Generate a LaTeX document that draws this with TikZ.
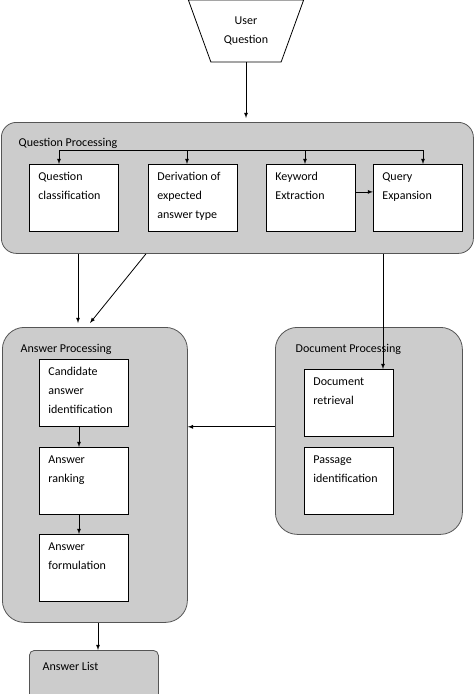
\documentclass[tikz,border=0pt]{standalone}
\usepackage{fontspec}
\setmainfont{Carlito}
\usetikzlibrary{shapes.geometric}

\definecolor{panelgray}{RGB}{204,204,204}
\definecolor{edgegray}{RGB}{85,85,85}

\newcommand{\boxtxt}[1]{\parbox[t][51pt][t]{71pt}{\raggedright #1}}

\begin{document}
\begin{tikzpicture}[x=1pt,y=-1pt,line width=0.8pt,
        every node/.style={font=\fontsize{12pt}{19pt}\selectfont},
        panel/.style={draw=edgegray,fill=panelgray,anchor=north west,inner sep=0pt},
        procbox/.style={draw=black,fill=white,anchor=north west,inner xsep=9pt,inner ysep=8pt},
        arr/.style={-latex}]
        \useasboundingbox (0,0) rectangle (474,694);
        % containers
        \node[panel,rounded corners=15pt,minimum width=472pt,minimum height=131pt] (qp) at (1,122) {};
        \node[panel,rounded corners=22pt,minimum width=185pt,minimum height=295pt] (ap) at (2,327) {};
        \node[panel,rounded corners=22pt,minimum width=187pt,minimum height=207pt] (dp) at (275,327) {};
        \node[panel,rounded corners=5pt,minimum width=129pt,minimum height=60pt] (al) at (29,650) {};
        \node[anchor=base west] (qplabel) at (15,146) {Question Processing};
        \node[anchor=base west] (aplabel) at (17,352) {Answer Processing};
        \node[anchor=base west] (dplabel) at (292,352) {Document Processing};
        \node[anchor=base west] (allabel) at (39,670) {Answer List};
        % user question
        \node[draw=black,fill=white,trapezium,shape border rotate=180,trapezium stretches=true,
            trapezium left angle=65,trapezium right angle=65,minimum width=116pt,minimum height=62pt,
            align=center] (uq) at (246,31) {User\\Question};
        % boxes
        \node[procbox] (qc) at (29,164) {\boxtxt{Question\\classification}};
        \node[procbox] (de) at (148,164) {\boxtxt{Derivation of\\expected\\answer type}};
        \node[procbox] (kw) at (266,164) {\boxtxt{Keyword\\Extraction}};
        \node[procbox] (qe) at (373,164) {\boxtxt{Query\\Expansion}};
        \node[procbox] (ca) at (39,359) {\boxtxt{Candidate\\answer\\identification}};
        \node[procbox] (ar) at (39,447) {\boxtxt{Answer\\ranking}};
        \node[procbox] (af) at (39,534) {\boxtxt{Answer\\formulation}};
        \node[procbox] (dr) at (304,369) {\boxtxt{Document\\retrieval}};
        \node[procbox] (pi) at (304,447) {\boxtxt{Passage\\identification}};
        % connectors
        \draw[arr] (uq.south) -- (uq.south |- 0,118);
        \draw (59,150) -- (423,150);
        \foreach \b/\x in {qc/59,de/187,kw/305,qe/423}
            \draw[arr] (\x,150) -- (\b.north -| \x,0);
        \draw[arr] ([yshift=6pt]kw.east) -- ([yshift=6pt]qe.west);
        \draw[arr] (qp.south -| 78,0) -- (78,323);
        \draw[arr] (qp.south -| 146,0) -- (90,323);
        \draw[arr] (qp.south -| 383,0) -- (dr.north -| 383,0);
        \draw[arr] (dp.west |- ca.south) -- (ap.east |- ca.south);
        \draw[arr] (ca.south -| 79,0) -- (ar.north -| 79,0);
        \draw[arr] (ar.south -| 79,0) -- (af.north -| 79,0);
        \draw[arr] (ap.south -| 98,0) -- (al.north -| 98,0);
    \end{tikzpicture}
\end{document}
